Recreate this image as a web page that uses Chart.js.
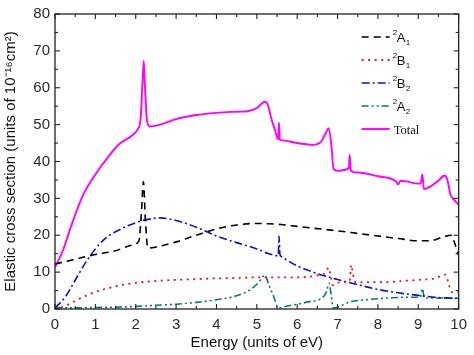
<!DOCTYPE html>
<html><head><meta charset="utf-8">
<script src="https://cdn.jsdelivr.net/npm/chart.js@4.4.1/dist/chart.umd.min.js"></script>
<style>html,body{margin:0;padding:0;background:#fff}canvas{display:block}</style>
</head><body>
<canvas id="c" width="474" height="355"></canvas>
<script>
// ---- data ----
const xTitle = "Energy (units of eV)";
const yTitle = "Elastic cross section (units of 10\u207B\u00B9\u2076cm\u00B2)";
const seriesLabels = ["\u00B2A\u2081", "\u00B2B\u2081", "\u00B2B\u2082", "\u00B2A\u2082", "Total"];

const energyA1 = [0, 0.5, 1.0, 1.5, 1.9, 2.08, 2.14, 2.19, 2.24, 2.3, 2.5, 3.0, 3.5, 4.0, 4.5, 5.0, 5.3, 5.6, 6.0, 6.5, 7.0, 7.5, 8.0, 8.5, 9.0, 9.3, 9.6, 9.82, 9.88, 10];
const sigmaA1  = [12.2, 13.5, 14.8, 15.8, 17.3, 18.5, 26, 34.5, 24, 16.5, 16.8, 18.2, 20.0, 21.7, 22.8, 23.2, 23.1, 22.9, 22.4, 21.8, 21.2, 20.5, 19.8, 19.1, 18.5, 18.5, 19.5, 20.0, 18.5, 14.5];

const energyB1 = [0, 0.25, 0.5, 0.8, 1.2, 1.6, 2.0, 2.5, 3.0, 3.5, 4.0, 4.5, 5.0, 5.5, 6.0, 6.5, 6.7, 6.78, 6.83, 6.88, 6.95, 7.2, 7.3, 7.34, 7.38, 7.45, 7.8, 8.2, 8.6, 9.0, 9.4, 9.68, 9.75, 9.82, 10];
const sigmaB1  = [0, 0.8, 2.2, 3.8, 5.3, 6.4, 7.1, 7.6, 7.9, 8.1, 8.3, 8.4, 8.6, 8.6, 8.6, 9.1, 9.8, 11.2, 9.0, 6.5, 7.0, 7.3, 7.5, 12.0, 9.5, 7.2, 7.3, 7.3, 7.6, 7.9, 8.3, 9.3, 7.0, 4.6, 4.5];

const energyB2 = [0, 0.25, 0.5, 0.8, 1.2, 1.6, 2.0, 2.3, 2.6, 3.0, 3.5, 4.0, 4.5, 5.0, 5.3, 5.53, 5.55, 5.57, 5.6, 6.0, 6.5, 7.0, 7.5, 8.0, 8.5, 9.0, 9.5, 10];
const sigmaB2  = [0.3, 3.2, 7.8, 13.3, 18.7, 21.5, 23.4, 24.3, 24.7, 24.0, 22.2, 19.8, 18.0, 16.3, 15.0, 14.4, 19.8, 15.0, 14.3, 11.7, 9.6, 8.0, 6.6, 5.3, 4.4, 3.7, 3.1, 2.9];

const energyA2 = [0, 0.5, 1.0, 1.5, 2.0, 2.5, 3.0, 3.5, 4.0, 4.5, 4.8, 5.0, 5.1, 5.2, 5.3, 5.42, 5.53, 5.7, 6.0, 6.3, 6.6, 6.72, 6.79, 6.84, 6.89, 7.0, 7.3, 7.8, 8.3, 8.7, 9.05, 9.1, 9.15, 9.5, 10];
const sigmaA2  = [0.3, 0.3, 0.4, 0.5, 0.7, 1.0, 1.3, 1.8, 2.5, 3.6, 5.0, 6.7, 8.0, 9.2, 6.5, 3.3, 0.3, 0.7, 1.3, 2.0, 2.9, 4.5, 7.0, 4.0, 0.3, 0.5, 1.9, 2.6, 3.0, 3.2, 3.2, 5.6, 3.0, 3.0, 2.9];

const energyTotal = [0, 0.2, 0.4, 0.7, 1.0, 1.3, 1.6, 1.9, 2.05, 2.12, 2.17, 2.2, 2.23, 2.28, 2.35, 2.6, 3.0, 3.5, 4.0, 4.5, 4.8, 5.0, 5.1, 5.2, 5.27, 5.35, 5.45, 5.53, 5.55, 5.57, 5.6, 6.0, 6.4, 6.6, 6.72, 6.78, 6.85, 6.9, 7.0, 7.28, 7.3, 7.33, 7.5, 8.0, 8.45, 8.5, 8.56, 8.7, 9.0, 9.06, 9.1, 9.14, 9.3, 9.5, 9.65, 9.72, 9.8, 9.87, 10];
const sigmaTotal  = [11.3, 16.0, 22.5, 31.0, 36.5, 41.0, 44.8, 47.0, 48.8, 51.5, 62, 67.3, 60, 51, 49.5, 50.0, 51.5, 52.6, 53.2, 53.5, 53.7, 54.5, 55.5, 56.2, 55.5, 52.0, 48.5, 46.0, 50.5, 46.0, 45.8, 45.0, 44.5, 45.5, 48.0, 49.0, 44.0, 38.0, 37.5, 38.2, 41.8, 37.5, 37.0, 36.0, 34.6, 33.8, 34.8, 34.6, 34.0, 34.0, 36.5, 32.5, 33.2, 34.8, 36.2, 35.0, 31.0, 29.8, 28.4];

const xTickValues = [0, 1, 2, 3, 4, 5, 6, 7, 8, 9, 10];
const yTickValues = [0, 10, 20, 30, 40, 50, 60, 70, 80];

// ---- chart ----
const pts = (xs, ys) => xs.map((x, i) => ({x: x, y: ys[i]}));
const SANS = "'Liberation Sans', Arial, Helvetica, sans-serif";
const SERIF = "'Liberation Serif', 'Times New Roman', serif";

const styles = [
  {color: '#000000', dash: [7, 5], width: 1.6},
  {color: '#e8101c', dash: [2, 4.5], width: 1.8},
  {color: '#1010c8', dash: [8, 3, 2, 3], width: 1.6},
  {color: '#0b7a6c', dash: [7, 3, 2, 3, 2, 3], width: 1.6},
  {color: '#ff00ff', dash: [], width: 1.9}
];
const seriesData = [pts(energyA1, sigmaA1), pts(energyB1, sigmaB1), pts(energyB2, sigmaB2), pts(energyA2, sigmaA2), pts(energyTotal, sigmaTotal)];

const datasets = seriesData.map((d, i) => ({
  label: seriesLabels[i],
  data: d,
  borderColor: styles[i].color,
  borderDash: styles[i].dash,
  borderWidth: styles[i].width,
  pointRadius: 0,
  fill: false,
  cubicInterpolationMode: 'monotone'
}));

const framePlugin = {
  id: 'frame',
  beforeDraw(chart) {
    const ctx = chart.ctx;
    ctx.save(); ctx.fillStyle = '#fff'; ctx.fillRect(0, 0, chart.width, chart.height); ctx.restore();
  },
  afterDraw(chart) {
    const {ctx, chartArea: a, scales} = chart;
    const xs = scales.x, ys = scales.y;
    ctx.save();
    ctx.strokeStyle = '#222';
    ctx.lineWidth = 1.3;
    ctx.strokeRect(a.left, a.top, a.right - a.left, a.bottom - a.top);
    ctx.lineWidth = 1.1;
    const xv = xs.ticks.map(t => t.value), yv = ys.ticks.map(t => t.value);
    const draw = (x1, y1, x2, y2) => { ctx.beginPath(); ctx.moveTo(x1, y1); ctx.lineTo(x2, y2); ctx.stroke(); };
    xv.forEach((v, i) => {
      const p = xs.getPixelForValue(v);
      draw(p, a.bottom, p, a.bottom - 5); draw(p, a.top, p, a.top + 5);
      if (i < xv.length - 1) {
        const m = xs.getPixelForValue((v + xv[i + 1]) / 2);
        draw(m, a.bottom, m, a.bottom - 3); draw(m, a.top, m, a.top + 3);
      }
    });
    yv.forEach((v, i) => {
      const p = ys.getPixelForValue(v);
      draw(a.left, p, a.left + 5, p); draw(a.right, p, a.right - 5, p);
      if (i < yv.length - 1) {
        const m = ys.getPixelForValue((v + yv[i + 1]) / 2);
        draw(a.left, m, a.left + 3, m); draw(a.right, m, a.right - 3, m);
      }
    });
    // legend
    const x0 = a.right - 97, x1 = a.right - 69, tx = a.right - 66;
    chart.data.datasets.forEach((ds, i) => {
      const ry = a.top + 23 + 23 * i;
      ctx.strokeStyle = ds.borderColor; ctx.lineWidth = ds.borderWidth;
      ctx.setLineDash(ds.borderDash); draw(x0, ry, x1, ry); ctx.setLineDash([]);
      ctx.fillStyle = '#111'; ctx.textBaseline = 'alphabetic'; ctx.textAlign = 'left';
      const lab = ds.label;
      if (lab.charAt(0) === '\u00B2') {
        const main = lab.charAt(1);
        const sub = lab.charAt(2) === '\u2081' ? '1' : '2';
        ctx.font = '8px ' + SANS; ctx.fillText('2', tx, ry - 2);
        ctx.font = '13px ' + SANS; ctx.fillText(main, tx + 4, ry + 4.5);
        const w = ctx.measureText(main).width;
        ctx.font = '8px ' + SANS; ctx.fillText(sub, tx + 4.5 + w, ry + 7.5);
      } else {
        ctx.font = '12.5px ' + SERIF; ctx.fillText(lab, tx + 1, ry + 5);
      }
    });
    ctx.restore();
  }
};

new Chart(document.getElementById('c'), {
  type: 'line',
  data: {datasets: datasets},
  options: {
    responsive: false,
    animation: false,
    events: [],
    layout: {padding: {top: 10, right: 12, left: 0, bottom: 0}},
    plugins: {legend: {display: false}, tooltip: {enabled: false}, title: {display: false}},
    scales: {
      x: {
        type: 'linear', min: 0, max: 10,
        afterFit: s => { s.height = 46; },
        afterBuildTicks: s => { s.ticks = xTickValues.map(v => ({value: v})); },
        grid: {display: false, drawTicks: false},
        border: {display: false},
        ticks: {padding: 7, color: '#2a2a2a', font: {family: SANS, size: 15}, maxRotation: 0, autoSkip: false},
        title: {display: true, text: xTitle, color: '#111', font: {family: SANS, size: 15}, padding: {top: 0, bottom: 3}}
      },
      y: {
        type: 'linear', min: 0, max: 80,
        afterFit: s => { s.width = 55; },
        afterBuildTicks: s => { s.ticks = yTickValues.map(v => ({value: v})); },
        grid: {display: false, drawTicks: false},
        border: {display: false},
        ticks: {padding: 5, color: '#2a2a2a', font: {family: SANS, size: 15}, autoSkip: false},
        title: {display: true, text: yTitle, color: '#111', font: {family: SANS, size: 15}, padding: {top: 2, bottom: 0}}
      }
    }
  },
  plugins: [framePlugin]
});
</script>
</body></html>
